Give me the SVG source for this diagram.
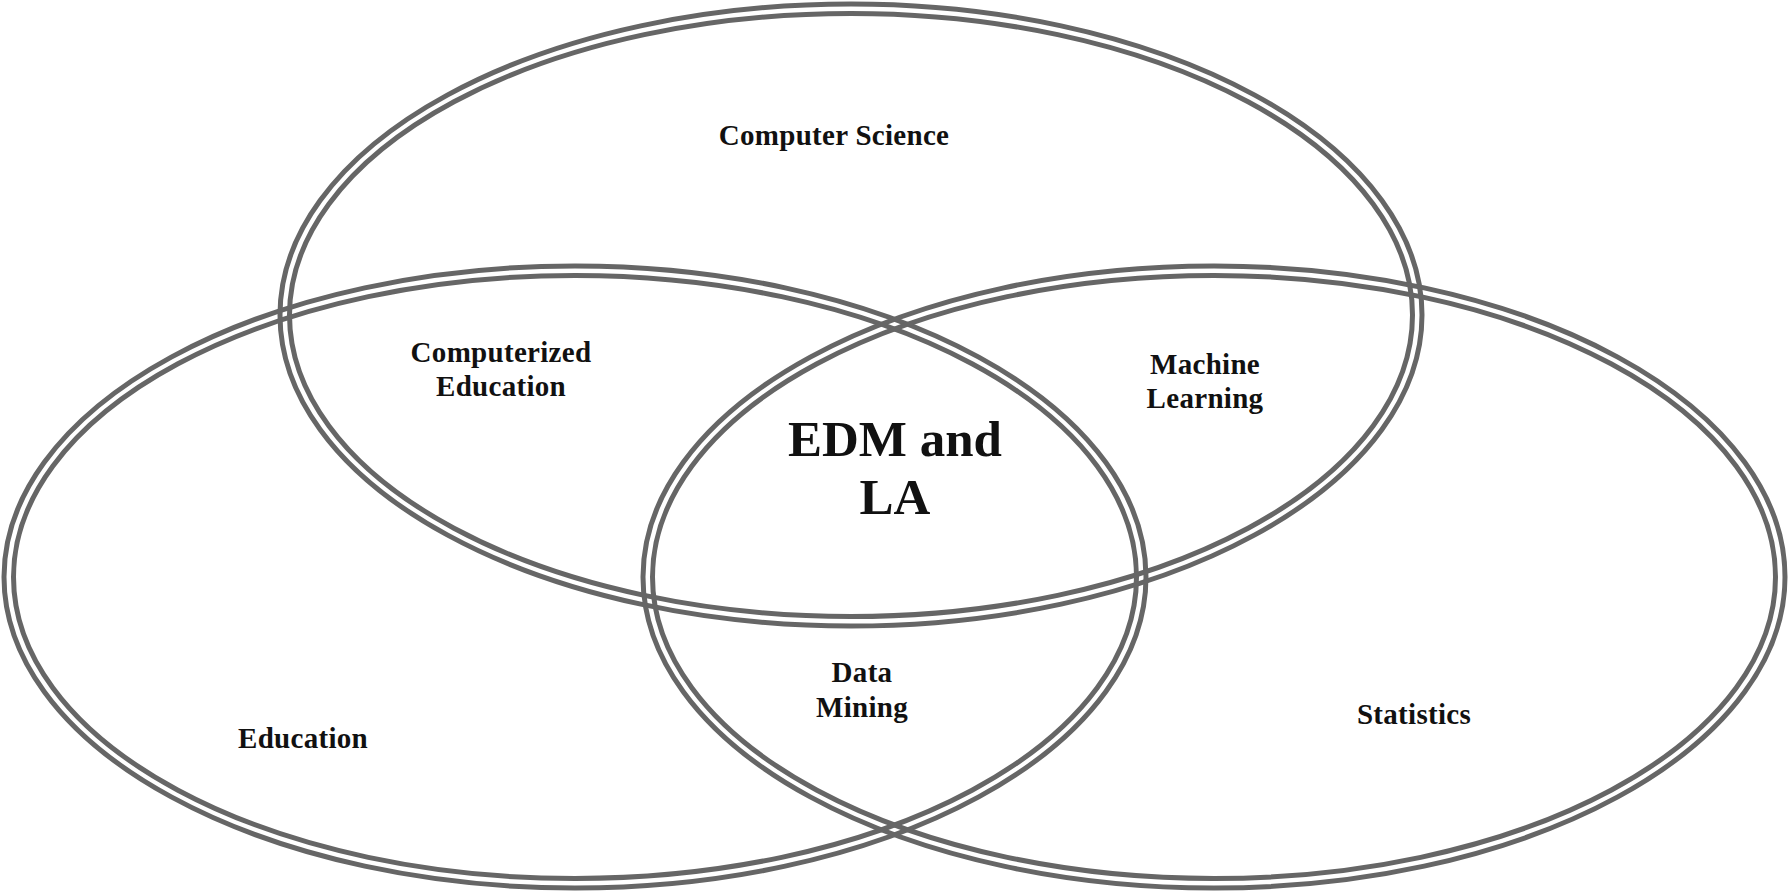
<svg xmlns="http://www.w3.org/2000/svg" width="1791" height="893" viewBox="0 0 1791 893">
<style>
.ring{fill:none;stroke:#666666;stroke-width:5}
.lbl{font-family:"Liberation Serif","Times New Roman",serif;font-weight:bold;font-size:29px;fill:#111;text-anchor:middle;letter-spacing:0.3px}
.big{font-size:51px;letter-spacing:0}
</style>
<rect width="1791" height="893" fill="#ffffff"/>
<g id="computer-science">
<ellipse class="ring" cx="851" cy="315" rx="571" ry="311"/>
<ellipse class="ring" cx="851" cy="315" rx="561.5" ry="301.5"/>
<text class="lbl" x="834" y="145">Computer Science</text>
</g>
<g id="education">
<ellipse class="ring" cx="575" cy="577" rx="571" ry="311"/>
<ellipse class="ring" cx="575" cy="577" rx="561.5" ry="301.5"/>
<text class="lbl" x="303" y="748">Education</text>
</g>
<g id="statistics">
<ellipse class="ring" cx="1214" cy="577" rx="571" ry="311"/>
<ellipse class="ring" cx="1214" cy="577" rx="561.5" ry="301.5"/>
<text class="lbl" x="1414" y="724">Statistics</text>
</g>
<g id="computerized-education">
<text class="lbl" x="501" y="362">Computerized</text>
<text class="lbl" x="501" y="396">Education</text>
</g>
<g id="machine-learning">
<text class="lbl" x="1205" y="374">Machine</text>
<text class="lbl" x="1205" y="408">Learning</text>
</g>
<g id="data-mining">
<text class="lbl" x="862" y="682">Data</text>
<text class="lbl" x="862" y="717">Mining</text>
</g>
<g id="edm-la">
<text class="lbl big" x="895" y="456">EDM and</text>
<text class="lbl big" x="895" y="514">LA</text>
</g>
<g id="connectors"></g>
</svg>
